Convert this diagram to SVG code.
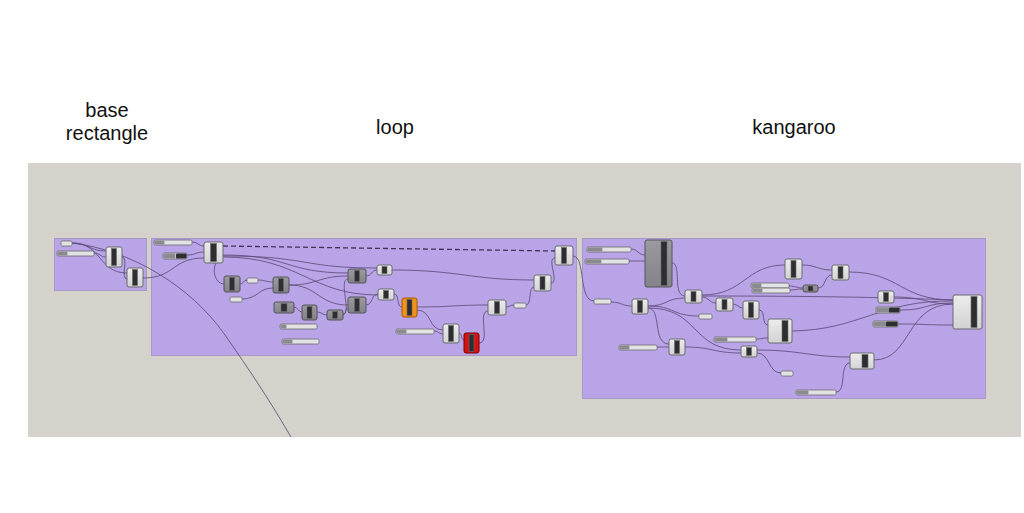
<svg xmlns="http://www.w3.org/2000/svg" width="1024" height="513" viewBox="0 0 1024 513">
<defs>
<linearGradient id="lg" x1="0" y1="0" x2="0" y2="1"><stop offset="0" stop-color="#ececec"/><stop offset="1" stop-color="#d2d2d2"/></linearGradient>
<linearGradient id="gg" x1="0" y1="0" x2="0" y2="1"><stop offset="0" stop-color="#9a9aa0"/><stop offset="1" stop-color="#828288"/></linearGradient>
<style>
.canvas{fill:#d5d1cb}
.grp{fill:#b8a4e6;stroke:#a898c6;stroke-width:1}
.lc{fill:url(#lg);stroke:#6a6a70;stroke-width:1}
.gc{fill:url(#gg);stroke:#55555a;stroke-width:1}
.oc{fill:#f39218;stroke:#a85800;stroke-width:1}
.rc{fill:#d51212;stroke:#7e0000;stroke-width:1}
.bar{fill:#2e2e30;stroke:#6c6c70;stroke-width:.6}
.sl{fill:#e2e2e2;stroke:#6a6a70;stroke-width:.8}
.sg{fill:#8a8a90}
.dk{fill:#2e2e30}
.w{fill:none;stroke:#5e4d7a;stroke-width:1;opacity:.85}
.dash{fill:none;stroke:#3f3256;stroke-width:1.3;stroke-dasharray:5 3}
.t{font-family:"Liberation Sans",Arial,sans-serif;font-size:20px;fill:#111;text-anchor:middle}
</style>
</defs>
<rect width="1024" height="513" fill="#ffffff"/>
<rect class="canvas" x="28" y="163" width="993" height="274"/>

<g id="titles">
<text class="t" x="107" y="117">base</text>
<text class="t" x="107" y="140">rectangle</text>
<text class="t" x="395" y="134">loop</text>
<text class="t" x="794" y="134">kangaroo</text>
</g>

<g id="groups">
<rect id="grp-base" class="grp" x="54.5" y="238.5" width="92" height="52"/>
<rect id="grp-loop" class="grp" x="151.5" y="238.5" width="425" height="117"/>
<rect id="grp-kangaroo" class="grp" x="582.5" y="238.5" width="403" height="160"/>
</g>

<g id="connectors">
<!-- base -->
<path class="w" d="M72,243 C89,243 89,251 106,251"/>
<path class="w" d="M72,243 C102,243 98,273 127,273"/>
<path class="w" d="M94,253 C100,253 100,257 106,257"/>
<path class="w" d="M122,257 C129,257 120,279 127,279"/>
<path class="w" d="M143,278 C175,278 172,258 204,258"/>
<path class="w" d="M72,243 C130,250 190,285 225,335 S275,410 291,437"/>
<!-- loop -->
<path class="w" d="M192,242 C198,242 198,246 204,246"/>
<path class="w" d="M187,255 C196,255 195,252 204,252"/>
<path class="dash" d="M223,246 L555,251"/>
<path class="w" d="M223,255 C290,255 285,273 348,273"/>
<path class="w" d="M223,256 C310,256 300,268 377,268"/>
<path class="w" d="M223,257 C300,257 310,295 378,295"/>
<path class="w" d="M222,258 C210,262 213,284 224,284"/>
<path class="w" d="M240,284 C244,284 243,280 247,280"/>
<path class="w" d="M258,280 C265,280 266,282 273,282"/>
<path class="w" d="M242,299 C258,299 258,288 273,288"/>
<path class="w" d="M289,285 C318,285 318,276 348,276"/>
<path class="w" d="M289,285 C318,285 318,305 348,305"/>
<path class="w" d="M294,307 C298,307 298,312 302,312"/>
<path class="w" d="M317,312 C322,312 322,315 327,315"/>
<path class="w" d="M343,315 C346,315 345,308 348,308"/>
<path class="w" d="M343,314 C352,314 338,279 348,279"/>
<path class="w" d="M366,276 C372,276 371,270 377,270"/>
<path class="w" d="M366,305 C373,305 371,294 378,294"/>
<path class="w" d="M392,270 C460,270 470,280 534,280"/>
<path class="w" d="M394,294 C400,294 396,307 402,307"/>
<path class="w" d="M417,307 C450,307 455,305 488,305"/>
<path class="w" d="M417,310 C432,310 428,330 443,330"/>
<path class="w" d="M434,331 C438,331 439,334 443,334"/>
<path class="w" d="M459,333 C462,333 461,340 464,340"/>
<path class="w" d="M479,343 C491,343 477,311 488,311"/>
<path class="w" d="M506,307 C510,307 510,305 514,305"/>
<path class="w" d="M526,305 C532,305 528,287 534,287"/>
<path class="w" d="M551,283 C560,283 546,258 555,258"/>
<path class="w" d="M573,256 C586,256 578,301 594,301"/>
<!-- kangaroo -->
<path class="w" d="M631,249 C638,249 638,255 645,255"/>
<path class="w" d="M629,261 C637,261 637,261 645,261"/>
<path class="w" d="M672,263 C682,263 672,296 685,296"/>
<path class="w" d="M611,302 C621,302 622,306 632,306"/>
<path class="w" d="M648,306 C668,306 665,298 685,298"/>
<path class="w" d="M648,306 C675,306 672,316 699,316"/>
<path class="w" d="M648,308 C662,308 652,344 669,344"/>
<path class="w" d="M648,308 C700,308 690,350 741,350"/>
<path class="w" d="M657,347 C663,347 663,347 669,347"/>
<path class="w" d="M685,347 C713,347 713,353 741,353"/>
<path class="w" d="M702,297 C709,297 709,303 716,303"/>
<path class="w" d="M702,296 C800,296 880,297 953,300"/>
<path class="w" d="M702,295 C745,295 745,265 785,265"/>
<path class="w" d="M733,304 C738,304 738,308 743,308"/>
<path class="w" d="M759,310 C766,310 761,325 768,325"/>
<path class="w" d="M756,339 C762,339 762,338 768,338"/>
<path class="w" d="M792,331 C860,330 880,300 953,301"/>
<path class="w" d="M802,265 C817,265 817,270 832,270"/>
<path class="w" d="M789,286 C796,286 796,288 803,288"/>
<path class="w" d="M790,290 C796,290 796,289 803,289"/>
<path class="w" d="M818,288 C826,288 824,275 832,275"/>
<path class="w" d="M849,272 C900,272 900,300 953,300"/>
<path class="w" d="M894,297 C925,297 925,304 953,304"/>
<path class="w" d="M900,310 C928,310 925,303 953,303"/>
<path class="w" d="M898,324 C925,324 925,325 953,325"/>
<path class="w" d="M757,350 C800,350 810,357 850,357"/>
<path class="w" d="M757,353 C770,353 768,373 781,373"/>
<path class="w" d="M874,360 C912,360 905,304 953,304"/>
<path class="w" d="M836,392 C847,392 839,363 850,363"/>
</g>

<!-- base rectangle nodes -->
<g id="b-param"><rect class="sl" x="61" y="241" width="11" height="5" rx="1.5"/></g>
<g id="b-slider"><rect class="sl" x="57" y="251" width="37" height="5" rx="1.5"/><rect class="sg" x="57.4" y="251.4" width="10" height="4.2" rx="1.2"/></g>
<g id="b-comp1"><rect class="lc" x="106" y="247" width="16" height="20" rx="2"/><rect class="bar" x="111.5" y="248.5" width="5" height="17"/></g>
<g id="b-comp2"><rect class="lc" x="127" y="268" width="16" height="19" rx="2"/><rect class="bar" x="132.5" y="269.5" width="5" height="16"/></g>

<!-- loop nodes -->
<g id="l-slider1"><rect class="sl" x="154" y="240" width="38" height="5" rx="1.5"/><rect class="sg" x="154.4" y="240.4" width="10" height="4.2" rx="1.2"/></g>
<g id="l-toggle"><rect class="sl" x="163" y="253" width="24" height="6" rx="1.5"/><rect class="sg" x="163.4" y="253.4" width="12" height="5.2" rx="1.2"/><rect class="dk" x="176" y="253.4" width="10.6" height="5.2" rx="1.2"/></g>
<g id="l-A"><rect class="lc" x="204" y="242" width="19" height="21" rx="2"/><rect class="bar" x="210.5" y="243.5" width="6" height="18"/></g>
<g id="l-B"><rect class="gc" x="224" y="276" width="16" height="16" rx="2"/><rect class="bar" x="229.5" y="277.5" width="5" height="13"/></g>
<g id="l-p1"><rect class="sl" x="247" y="278" width="11" height="5" rx="1.5"/></g>
<g id="l-p2"><rect class="sl" x="230" y="297" width="12" height="5" rx="1.5"/></g>
<g id="l-C"><rect class="gc" x="273" y="277" width="16" height="16" rx="2"/><rect class="bar" x="278.5" y="278.5" width="5" height="13"/></g>
<g id="l-D"><rect class="gc" x="274" y="302" width="20" height="11" rx="2"/><rect class="bar" x="281" y="303.5" width="6" height="8"/></g>
<g id="l-E"><rect class="gc" x="302" y="305" width="15" height="15" rx="2"/><rect class="bar" x="307" y="306.5" width="5" height="12"/></g>
<g id="l-F"><rect class="gc" x="327" y="310" width="16" height="10" rx="2"/><rect class="bar" x="332.5" y="311.5" width="5" height="7"/></g>
<g id="l-slider3"><rect class="sl" x="280" y="324" width="37" height="5" rx="1.5"/><rect class="sg" x="280.4" y="324.4" width="6" height="4.2" rx="1.2"/></g>
<g id="l-slider4"><rect class="sl" x="282" y="339" width="37" height="5" rx="1.5"/><rect class="sg" x="282.4" y="339.4" width="10" height="4.2" rx="1.2"/></g>
<g id="l-G"><rect class="gc" x="348" y="269" width="18" height="14" rx="2"/><rect class="bar" x="354.5" y="270.5" width="5" height="11"/></g>
<g id="l-H"><rect class="gc" x="348" y="297" width="18" height="16" rx="2"/><rect class="bar" x="354.5" y="298.5" width="5" height="13"/></g>
<g id="l-I"><rect class="lc" x="377" y="265" width="15" height="10" rx="2"/><rect class="bar" x="382" y="266.5" width="5" height="7"/></g>
<g id="l-J"><rect class="lc" x="378" y="289" width="16" height="11" rx="2"/><rect class="bar" x="383.5" y="290.5" width="5" height="8"/></g>
<g id="l-orange"><rect class="oc" x="402" y="298" width="15" height="19" rx="2"/><rect class="bar" x="407" y="299.5" width="5" height="16"/></g>
<g id="l-slider5"><rect class="sl" x="396" y="329" width="38" height="5" rx="1.5"/><rect class="sg" x="396.4" y="329.4" width="10" height="4.2" rx="1.2"/></g>
<g id="l-N"><rect class="lc" x="443" y="324" width="16" height="19" rx="2"/><rect class="bar" x="448.5" y="325.5" width="5" height="16"/></g>
<g id="l-red"><rect class="rc" x="464" y="333" width="15" height="20" rx="2"/><rect class="bar" x="469" y="334.5" width="5" height="17"/></g>
<g id="l-K"><rect class="lc" x="488" y="300" width="18" height="15" rx="2"/><rect class="bar" x="494.5" y="301.5" width="5" height="12"/></g>
<g id="l-p3"><rect class="sl" x="514" y="303" width="12" height="5" rx="1.5"/></g>
<g id="l-L"><rect class="lc" x="534" y="275" width="17" height="16" rx="2"/><rect class="bar" x="540" y="276.5" width="5" height="13"/></g>
<g id="l-M"><rect class="lc" x="555" y="246" width="18" height="19" rx="2"/><rect class="bar" x="561.5" y="247.5" width="5" height="16"/></g>

<!-- kangaroo nodes -->
<g id="k-slider1"><rect class="sl" x="587" y="247" width="44" height="5" rx="1.5"/><rect class="sg" x="587.4" y="247.4" width="15" height="4.2" rx="1.2"/></g>
<g id="k-slider2"><rect class="sl" x="585" y="259" width="44" height="5" rx="1.5"/><rect class="sg" x="585.4" y="259.4" width="16" height="4.2" rx="1.2"/></g>
<g id="k-big"><rect class="gc" x="645" y="240" width="27" height="47" rx="2"/><rect class="bar" x="661" y="241.5" width="6" height="44"/></g>
<g id="k-p1"><rect class="sl" x="594" y="299" width="17" height="5" rx="1.5"/></g>
<g id="k-P"><rect class="lc" x="632" y="299" width="16" height="15" rx="2"/><rect class="bar" x="637.5" y="300.5" width="5" height="12"/></g>
<g id="k-Q"><rect class="lc" x="685" y="290" width="17" height="13" rx="2"/><rect class="bar" x="691" y="291.5" width="5" height="10"/></g>
<g id="k-p2"><rect class="sl" x="699" y="314" width="13" height="5" rx="1.5"/></g>
<g id="k-R"><rect class="lc" x="716" y="298" width="17" height="13" rx="2"/><rect class="bar" x="722" y="299.5" width="5" height="10"/></g>
<g id="k-S"><rect class="lc" x="743" y="301" width="16" height="18" rx="2"/><rect class="bar" x="748.5" y="302.5" width="5" height="15"/></g>
<g id="k-slider3"><rect class="sl" x="751" y="283" width="38" height="5" rx="1.5"/><rect class="sg" x="751.4" y="283.4" width="10" height="4.2" rx="1.2"/></g>
<g id="k-slider4"><rect class="sl" x="752" y="288" width="38" height="5" rx="1.5"/><rect class="sg" x="752.4" y="288.4" width="10" height="4.2" rx="1.2"/></g>
<g id="k-small"><rect class="gc" x="803" y="285" width="15" height="7" rx="2"/><rect class="bar" x="808" y="286" width="5" height="5"/></g>
<g id="k-T"><rect class="lc" x="785" y="259" width="17" height="20" rx="2"/><rect class="bar" x="791" y="260.5" width="5" height="17"/></g>
<g id="k-X"><rect class="lc" x="832" y="265" width="17" height="15" rx="2"/><rect class="bar" x="838" y="266.5" width="5" height="12"/></g>
<g id="k-slider5"><rect class="sl" x="714" y="337" width="42" height="5" rx="1.5"/><rect class="sg" x="714.4" y="337.4" width="13" height="4.2" rx="1.2"/></g>
<g id="k-U"><rect class="lc" x="768" y="319" width="24" height="24" rx="2"/><rect class="bar" x="782" y="320.5" width="6" height="21"/></g>
<g id="k-slider6"><rect class="sl" x="619" y="345" width="38" height="5" rx="1.5"/><rect class="sg" x="619.4" y="345.4" width="10" height="4.2" rx="1.2"/></g>
<g id="k-W"><rect class="lc" x="669" y="339" width="16" height="16" rx="2"/><rect class="bar" x="674.5" y="340.5" width="5" height="13"/></g>
<g id="k-V"><rect class="lc" x="741" y="346" width="16" height="11" rx="2"/><rect class="bar" x="746.5" y="347.5" width="5" height="8"/></g>
<g id="k-Y"><rect class="lc" x="878" y="291" width="16" height="12" rx="2"/><rect class="bar" x="883.5" y="292.5" width="5" height="9"/></g>
<g id="k-toggle1"><rect class="sl" x="876" y="307" width="24" height="6" rx="1.5"/><rect class="sg" x="876.4" y="307.4" width="13" height="5.2" rx="1.2"/><rect class="dk" x="889" y="307.4" width="10.6" height="5.2" rx="1.2"/></g>
<g id="k-toggle2"><rect class="sl" x="873" y="321" width="25" height="6" rx="1.5"/><rect class="sg" x="873.4" y="321.4" width="13" height="5.2" rx="1.2"/><rect class="dk" x="886" y="321.4" width="11.6" height="5.2" rx="1.2"/></g>
<g id="k-Z"><rect class="lc" x="953" y="295" width="29" height="34" rx="2"/><rect class="bar" x="971" y="296.5" width="6" height="31"/></g>
<g id="k-AA"><rect class="lc" x="850" y="353" width="24" height="16" rx="2"/><rect class="bar" x="862" y="354.5" width="6" height="13"/></g>
<g id="k-p3"><rect class="sl" x="781" y="371" width="12" height="5" rx="1.5"/></g>
<g id="k-slider7"><rect class="sl" x="796" y="390" width="40" height="5" rx="1.5"/><rect class="sg" x="796.4" y="390.4" width="12" height="4.2" rx="1.2"/></g>
</svg>
